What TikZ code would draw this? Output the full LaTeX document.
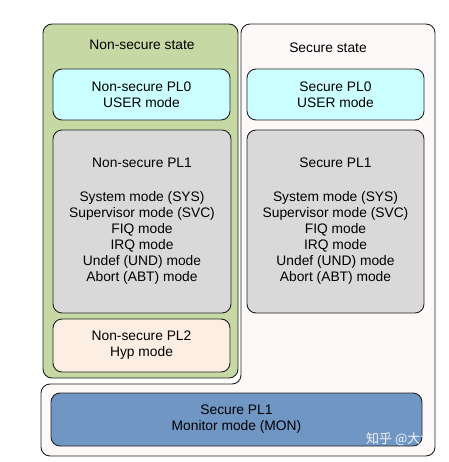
\documentclass[tikz,border=0pt]{standalone}
\usepackage{fontspec}
\setmainfont{Liberation Sans}
\newfontfamily\cjk{Noto Sans CJK SC}
\definecolor{nsgreen}{HTML}{C6D8A4}
\definecolor{secbg}{HTML}{FDF9F8}
\definecolor{plzero}{HTML}{CCFFFF}
\definecolor{plone}{HTML}{D9D9D9}
\definecolor{pltwo}{HTML}{FCEEE2}
\definecolor{monblue}{HTML}{7096C4}
\definecolor{edge}{HTML}{222222}
\begin{document}
\begin{tikzpicture}[x=1pt,y=-1pt,
  box/.style={draw=edge, line width=0.9pt, rounded corners=9pt, align=center,
    inner sep=0pt, font=\fontsize{13.8}{16}\selectfont},
  lbl/.style={inner sep=0pt, font=\fontsize{13.8}{16}\selectfont}]
\useasboundingbox (0,0) rectangle (448,462);
% secure state (wraps round the bottom)
\draw[fill=secbg, draw=edge, line width=0.9pt, rounded corners=9pt]
  (241,24) -- (435,24) -- (435,456) -- (41,456) -- (41,384) -- (241,384) -- cycle;
% non-secure state
\node[box, fill=nsgreen, minimum width=195pt, minimum height=354pt] (ns) at (140.5,201) {};
\node[lbl] (nsl) at (142,45) {Non-secure state};
\node[lbl] (sl) at (328,48) {Secure state};
% PL0
\node[box, fill=plzero, minimum width=177pt, minimum height=51pt] (nspl0) at (141.5,94.5)
  {Non-secure PL0\\USER mode};
\node[box, fill=plzero, minimum width=177pt, minimum height=51pt] (spl0) at (335.5,94.5)
  {Secure PL0\\USER mode};
% PL1
\node[box, fill=plone, minimum width=178pt, minimum height=183pt] (nspl1) at (142,221.5)
  {Non-secure PL1\\[18pt]System mode (SYS)\\Supervisor mode (SVC)\\FIQ mode\\IRQ mode\\Undef (UND) mode\\Abort (ABT) mode};
\node[box, fill=plone, minimum width=177pt, minimum height=183pt] (spl1) at (335.5,221.5)
  {Secure PL1\\[18pt]System mode (SYS)\\Supervisor mode (SVC)\\FIQ mode\\IRQ mode\\Undef (UND) mode\\Abort (ABT) mode};
% PL2
\node[box, fill=pltwo, minimum width=177pt, minimum height=53pt] (nspl2) at (141.5,345.5)
  {Non-secure PL2\\Hyp mode};
% Monitor
\node[box, fill=monblue, minimum width=371pt, minimum height=53pt] (mon) at (236.5,419.5)
  {Secure PL1\\Monitor mode (MON)};
% watermark
\node[text=white, opacity=0.9, inner sep=0pt, anchor=west, font=\cjk\fontsize{13}{13}\selectfont] (wm) at (366,439) {知乎 @大大};
\end{tikzpicture}
\end{document}
